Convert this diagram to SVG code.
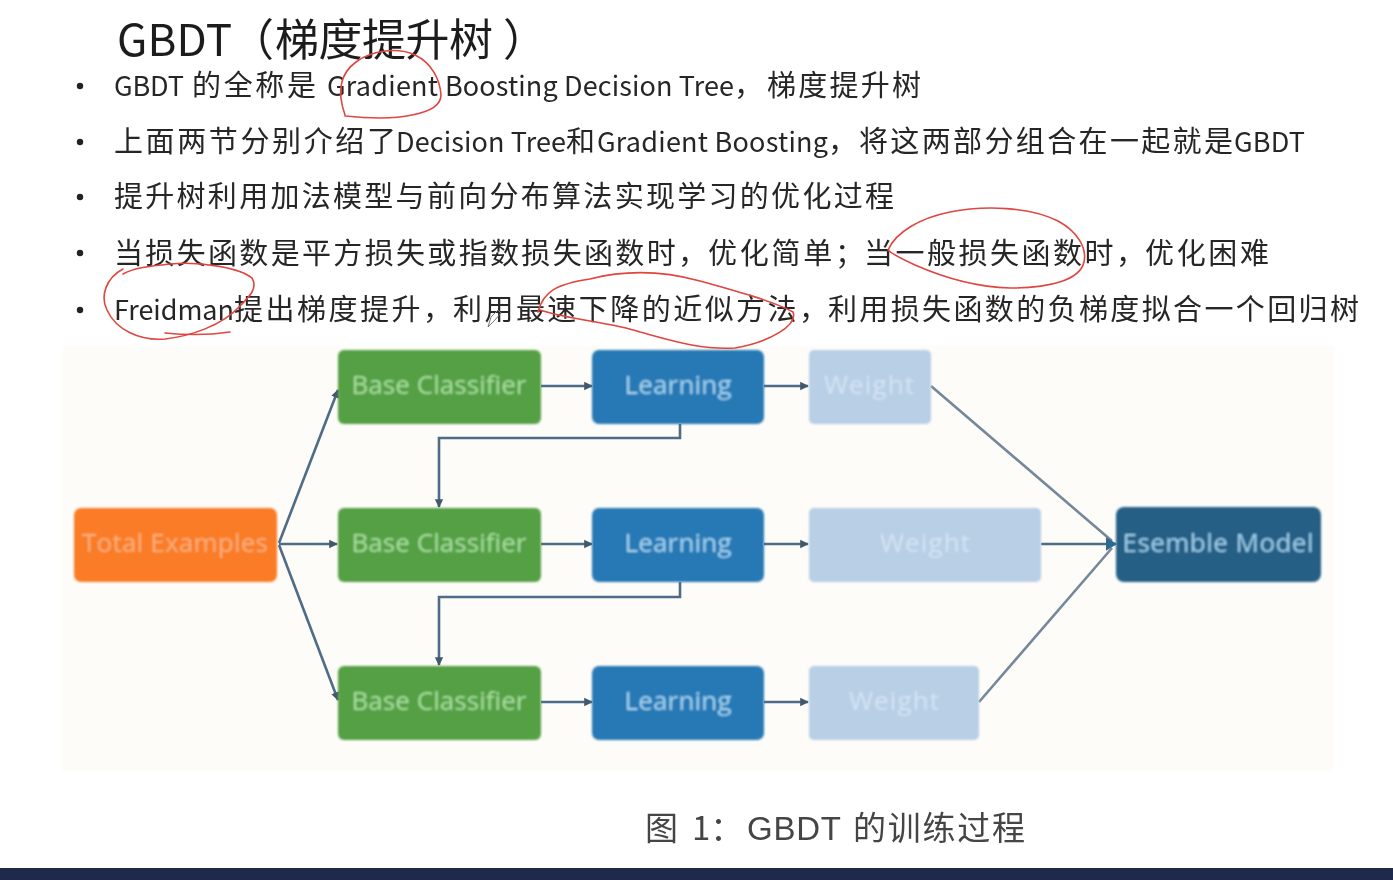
<svg xmlns="http://www.w3.org/2000/svg" width="1393" height="880" viewBox="0 0 1393 880">
<style>
text{font-family:"Noto Sans CJK SC","Liberation Sans",sans-serif}
.t{font-size:29px;fill:#262626}
.l{font-size:27px}
.n{font-size:26px;text-anchor:middle;font-family:"Open Sans","Liberation Sans",sans-serif}
.c{fill:none;stroke:#4f6c86;stroke-width:2.6}
.d{fill:none;stroke:#75889a;stroke-width:2.6}
.r{fill:none;stroke:#e0453f;stroke-width:1.6;stroke-linecap:round;stroke-linejoin:round}
.g rect{fill:#55a045}.g text{fill:#a9dfa0}
.b rect{fill:#2779b5}.b text{fill:#a5d6f3}
.w rect{fill:#b8cfe6}.w text{fill:#d4e4f4}
</style>
<defs>
<marker id="a" markerWidth="4" markerHeight="4" refX="3" refY="2" orient="auto"><path d="M0 0.4L3.4 2L0 3.6Z" fill="#42596d"/></marker>
<marker id="e" markerWidth="5" markerHeight="7" refX="4" refY="3.5" orient="auto"><path d="M0 0.8L4.4 3.5L0 6.2Z" fill="#2f6a90"/></marker>
<filter id="s" x="-5%" y="-5%" width="110%" height="110%"><feGaussianBlur stdDeviation="0.8"/></filter>
<filter id="f" x="-2%" y="-10%" width="104%" height="120%"><feGaussianBlur stdDeviation="0.35"/></filter>
</defs>
<rect width="1393" height="880" fill="#fff"/>
<rect x="62" y="346" width="1272" height="425" fill="#fdfcf8" filter="url(#s)"/>
<g id="heading" filter="url(#f)" font-size="44" fill="#1c1c1c">
<text x="117" y="56" textLength="115">GBDT</text>
<text x="230" y="56">（</text>
<text x="275" y="56" textLength="218">梯度提升树</text>
<text x="503" y="56">）</text>
</g>
<g id="bullets" filter="url(#f)">
<g fill="#222"><circle cx="80" cy="86" r="3.2"/><circle cx="80" cy="142" r="3.2"/><circle cx="80" cy="197" r="3.2"/><circle cx="80" cy="253" r="3.2"/><circle cx="80" cy="310" r="3.2"/></g>
<g class="t">
<text class="l" x="114" y="96" textLength="70">GBDT</text>
<text x="192" y="96" textLength="124">的全称是</text>
<text class="l" x="327" y="96" textLength="111">Gradient</text>
<text class="l" x="445" y="96" textLength="289">Boosting Decision Tree</text>
<text x="734" y="96">，</text>
<text x="767" y="96" textLength="154">梯度提升树</text>

<text x="114" y="152" textLength="282">上面两节分别介绍了</text>
<text class="l" x="396" y="152" textLength="170">Decision Tree</text>
<text x="566" y="152" textLength="31">和</text>
<text class="l" x="597" y="152" textLength="231">Gradient Boosting</text>
<text x="828" y="152">，</text>
<text x="859" y="152" textLength="374">将这两部分组合在一起就是</text>
<text class="l" x="1234" y="152" textLength="71">GBDT</text>

<text x="114" y="207" textLength="780">提升树利用加法模型与前向分布算法实现学习的优化过程</text>

<text x="114" y="264" textLength="593">当损失函数是平方损失或指数损失函数时，</text>
<text x="708" y="264" textLength="156">优化简单；</text>
<text x="864" y="264" textLength="281">当一般损失函数时，</text>
<text x="1145" y="264" textLength="124">优化困难</text>

<text class="l" x="114" y="320" textLength="120">Freidman</text>
<text x="234" y="320" textLength="218">提出梯度提升，</text>
<text x="453" y="320" textLength="375">利用最速下降的近似方法，</text>
<text x="828" y="320" textLength="531">利用损失函数的负梯度拟合一个回归树</text>
</g>
</g>
<g id="connectors" filter="url(#f)">
<path class="c" marker-end="url(#a)" d="M279 543L338 390"/>
<path class="c" marker-end="url(#a)" d="M279 544H337"/>
<path class="c" marker-end="url(#a)" d="M279 545L338 700"/>
<path class="c" marker-end="url(#a)" d="M541 386H592"/>
<path class="c" marker-end="url(#a)" d="M541 544H592"/>
<path class="c" marker-end="url(#a)" d="M541 702H592"/>
<path class="c" marker-end="url(#a)" d="M764 386H808"/>
<path class="c" marker-end="url(#a)" d="M764 544H808"/>
<path class="c" marker-end="url(#a)" d="M764 702H808"/>
<path class="c" marker-end="url(#a)" d="M680 424V438H439V507"/>
<path class="c" marker-end="url(#a)" d="M680 582V597H439V665"/>
<path class="d" d="M931 386L1112 541"/>
<path class="d" d="M979 702L1112 548"/>
<path class="c" marker-end="url(#e)" d="M1041 544H1116"/>
</g>
<g id="nodes" filter="url(#s)">
<g id="total"><rect x="74" y="508" width="203" height="74" rx="7" fill="#fb7b26"/><text class="n" x="175" y="552" fill="#fbb27c" textLength="186">Total Examples</text></g>
<g id="base1" class="g"><rect x="338" y="350" width="203" height="74" rx="6"/><text class="n" x="439" y="394" textLength="175">Base Classifier</text></g>
<g id="base2" class="g"><rect x="338" y="508" width="203" height="74" rx="6"/><text class="n" x="439" y="552" textLength="175">Base Classifier</text></g>
<g id="base3" class="g"><rect x="338" y="666" width="203" height="74" rx="6"/><text class="n" x="439" y="710" textLength="175">Base Classifier</text></g>
<g id="learn1" class="b"><rect x="592" y="350" width="172" height="74" rx="7"/><text class="n" x="678" y="394" textLength="107">Learning</text></g>
<g id="learn2" class="b"><rect x="592" y="508" width="172" height="74" rx="7"/><text class="n" x="678" y="552" textLength="107">Learning</text></g>
<g id="learn3" class="b"><rect x="592" y="666" width="172" height="74" rx="7"/><text class="n" x="678" y="710" textLength="107">Learning</text></g>
<g id="weight1" class="w"><rect x="809" y="350" width="122" height="74" rx="5"/><text class="n" x="869" y="394" textLength="90">Weight</text></g>
<g id="weight2" class="w"><rect x="809" y="508" width="232" height="74" rx="5"/><text class="n" x="925" y="552" textLength="90">Weight</text></g>
<g id="weight3" class="w"><rect x="809" y="666" width="170" height="74" rx="5"/><text class="n" x="894" y="710" textLength="90">Weight</text></g>
<g id="ensemble"><rect x="1116" y="507" width="205" height="75" rx="8" fill="#255f85"/><text class="n" x="1218" y="552" fill="#9fd0ee" textLength="191">Esemble Model</text></g>
</g>
<g id="caption" filter="url(#f)" font-size="33" fill="#444">
<text x="645" y="840">图</text>
<text x="692" y="840">1：</text>
<text x="747" y="840" textLength="94" style="font-family:'Liberation Sans',sans-serif">GBDT</text>
<text x="853" y="840" textLength="172">的训练过程</text>
</g>
<g id="annotations">
<path class="r" d="M345 115C338 95 338 75 356 62C372 50 398 47 415 55C432 63 440 80 441 95C441 106 428 112 412 115C390 120 365 118 345 116"/>
<path class="r" d="M888 250C896 232 920 218 950 212C985 205 1030 207 1058 221C1078 232 1087 248 1084 262C1080 280 1050 288 1010 288C975 287 940 276 915 265C902 259 892 254 888 250"/>
<path class="r" d="M123 269C106 278 100 296 107 310C116 330 140 341 165 339C190 336 222 326 240 306C250 296 258 288 252 278C240 268 200 261 170 264C150 266 133 268 123 274"/>
<path class="r" d="M165 333C185 335 210 335 230 332"/>
<path class="r" d="M538 312C543 292 556 284 590 279C625 270 660 270 700 281C740 292 775 302 793 312C798 325 770 342 735 348C700 350 670 340 640 332C610 322 570 320 540 310"/>
<path d="M488 327L491 317L498 310L501 313L494 321Z" fill="none" stroke="#777" stroke-width="1"/>
</g>
<rect y="868" width="1393" height="12" fill="#1f2a4a"/>
</svg>
